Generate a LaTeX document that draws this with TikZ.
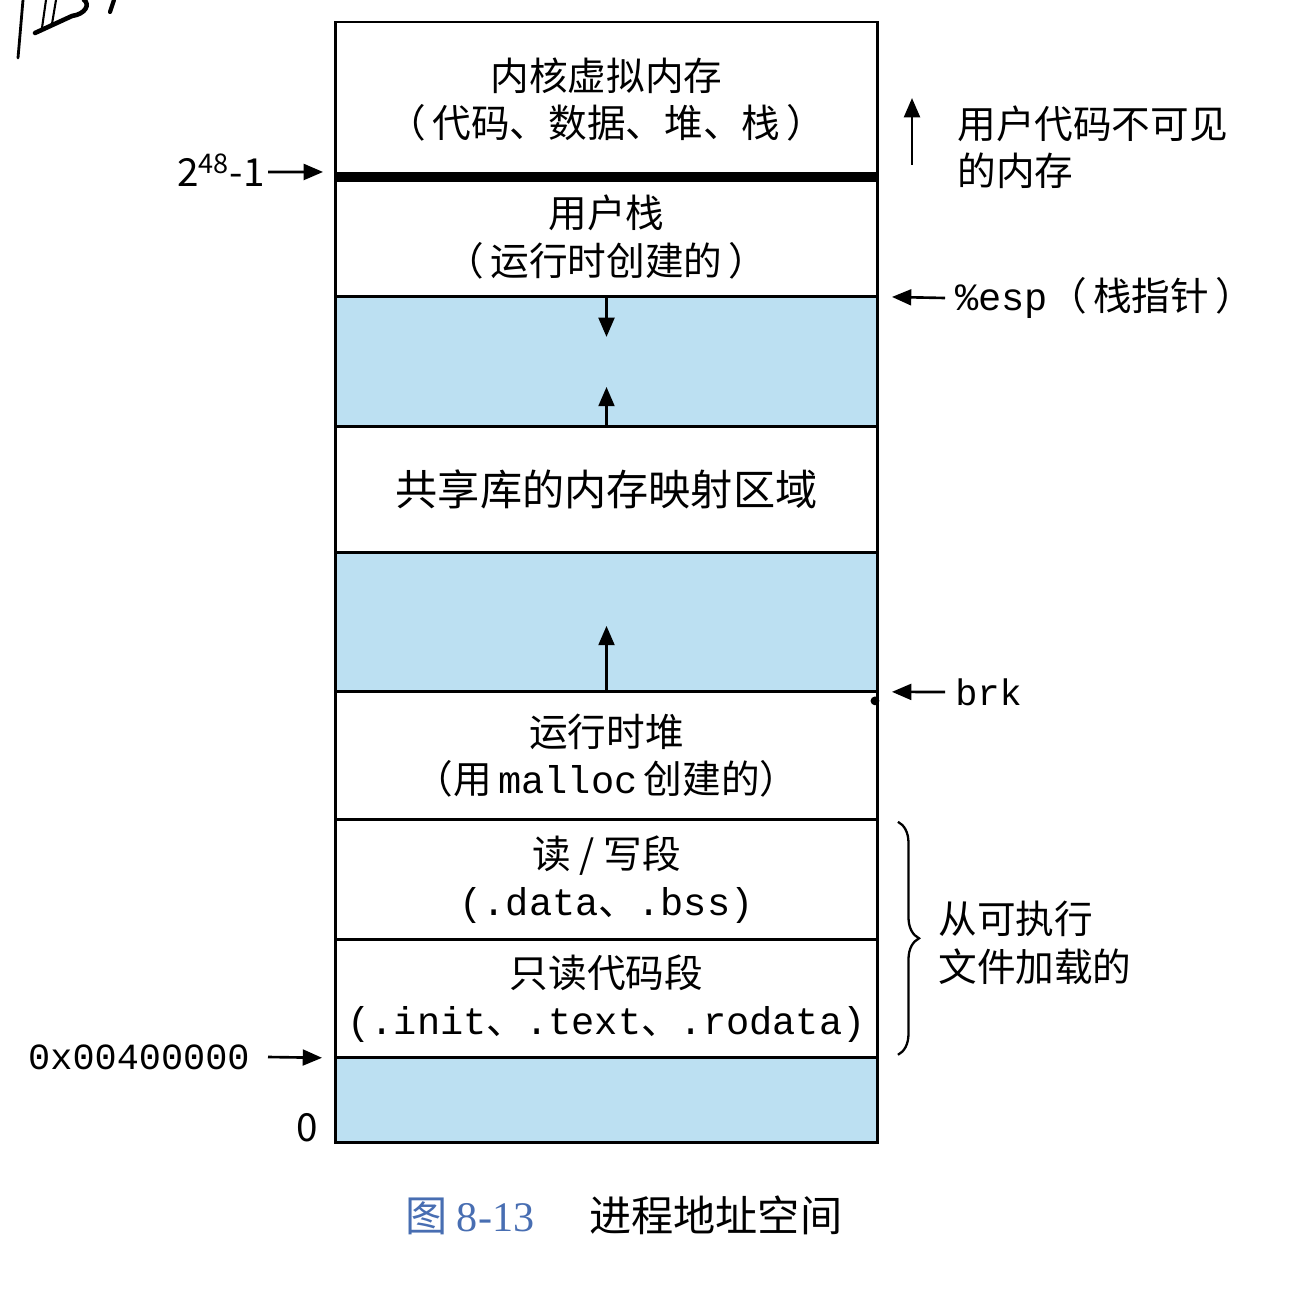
\documentclass[tikz,border=0pt]{standalone}
\usepackage{fontspec}
\setmainfont{Noto Sans CJK SC}
\newfontfamily\monofont{Liberation Mono}
\newfontfamily\seriffont{Liberation Serif}
\usetikzlibrary{arrows.meta, calc, positioning, decorations.pathreplacing}
\definecolor{gapblue}{RGB}{188,224,242}
\definecolor{capblue}{RGB}{72,110,178}
\tikzset{
  >={Triangle[length=11pt,width=9pt]},
  seg/.style={draw=black, line width=1.7pt, fill=white, inner sep=0pt,
              outer sep=0pt, minimum width=10.86cm, align=center,
              font=\fontsize{22}{27}\selectfont},
  gap/.style={seg, fill=gapblue},
  growarrow/.style={->, line width=1.6pt},
  pointer/.style={->, line width=1.5pt},
  lbl/.style={inner sep=0pt, font=\fontsize{22}{27}\selectfont},
  addr/.style={inner sep=0pt, font=\monofont\fontsize{21}{25}\selectfont},
  loadbrace/.style={decorate, decoration={brace, amplitude=12pt},
                    line width=1.3pt},
}

\begin{document}
\begin{tikzpicture}[x=0.02cm, y=-0.02cm]
  \useasboundingbox (0,0) rectangle (1291,1297);

  % ---- handwritten mark ----
  \draw[line width=1.6pt, line cap=round] (18,58) -- (23,0);
  \draw[line width=2.6pt, line cap=round] (35,33) -- (72,16)
    .. controls (86,14) and (90,4) .. (84,0);
  \draw[line width=1.2pt] (42,28) -- (46,0) (52,24) -- (56,0);
  \draw[line width=2.4pt, line cap=round] (110,12) -- (114,0);

  % ---- the address space column ----
  \node[seg, minimum height=3.1cm, anchor=north] (kernel) at (606.5,22)
    {内核虚拟内存\\（\,代码、数据、堆、栈\,）};
  \node[seg, minimum height=2.4cm, below=0pt of kernel] (ustack)
    {用户栈\\（\,运行时创建的\,）};
  \node[gap, minimum height=2.6cm, below=0pt of ustack] (gapA) {};
  \node[seg, minimum height=2.52cm, below=0pt of gapA,
        font=\fontsize{24}{29}\selectfont] (shlib)
    {共享库的内存映射区域};
  \node[gap, minimum height=2.78cm, below=0pt of shlib] (gapB) {};
  \node[seg, minimum height=2.56cm, below=0pt of gapB] (heap)
    {运行时堆\\（用\,{\monofont malloc}\,创建的）};
  \node[seg, minimum height=2.4cm, below=0pt of heap] (rwseg)
    {读 / 写段\\{\monofont(.data}、{\monofont.bss)}};
  \node[seg, minimum height=2.36cm, below=0pt of rwseg] (roseg)
    {只读代码段\\{\monofont(.init}、{\monofont.text}、{\monofont.rodata)}};
  \node[gap, minimum height=1.7cm, below=0pt of roseg] (gapC) {};

  \draw[line width=0.2cm] (kernel.south west) -- (kernel.south east);

  % ---- growth arrows ----
  \draw[growarrow] (gapA.north) -- ++(0,40);
  \draw[growarrow] (gapA.south) -- ++(0,-40);
  \draw[growarrow] (gapB.south) -- ++(0,-66);

  % ---- left addresses ----
  \node[lbl, anchor=east] (topaddr) at (265,170) {2\textsuperscript{48}-1};
  \draw[pointer] ($(topaddr.east)+(3,2)$) -- ($(kernel.south west)+(-12,-5)$);
  \node[addr, anchor=east] (lowaddr) at (250,1057) {0x00400000};
  \draw[pointer] ($(lowaddr.east)+(18,0)$) -- ($(gapC.north west)+(-13,0)$);
  \node[lbl, anchor=east] (zero) at (318,1128) {0};

  % ---- right labels ----
  \node[lbl, anchor=west, align=left] (hidden) at (957,147)
    {用户代码不可见\\的内存};
  \coordinate (hidtail) at (912,165);
  \coordinate (hidhead) at (912,98);
  \draw[growarrow] (hidtail) -- (hidhead);

  \node[lbl, anchor=west] (esp) at (955,298) {{\monofont\%esp}（\,栈指针\,）};
  \draw[pointer] ($(esp.west)+(-10,0)$) -- ($(gapA.north east)+(14,0)$);

  \node[addr, anchor=west] (brk) at (955,692) {brk};
  \draw[pointer] ($(brk.west)+(-10,0)$) -- ($(gapB.south east)+(14,0)$);
  \fill ($(gapB.south east)+(-3,9)$) circle (2.5pt);

  \draw[loadbrace] ($(rwseg.north east)+(20,2)$) -- ($(roseg.south east)+(20,-3)$);
  \node[lbl, anchor=west, align=left] (loaded) at (938,943)
    {从可执行\\文件加载的};

  % ---- caption ----
  \node[anchor=west, inner sep=0pt, font=\fontsize{24}{29}\selectfont]
    (caption) at (405,1215)
    {{\color{capblue}图 {\seriffont 8-13}}\hspace{1.1cm}进程地址空间};
\end{tikzpicture}
\end{document}
